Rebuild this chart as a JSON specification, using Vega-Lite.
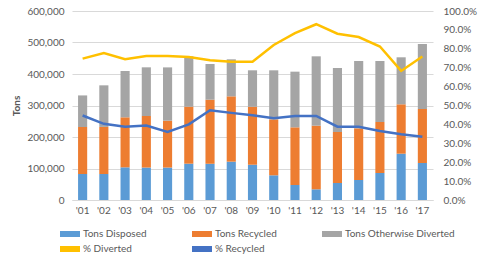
{
  "$schema": "https://vega.github.io/schema/vega-lite/v6.json",
  "autosize": "none",
  "width": 361,
  "height": 189,
  "padding": {"left": 72, "top": 11, "right": 47, "bottom": 66},
  "background": "white",
  "config": {
    "font": "Lato",
    "view": {"stroke": null},
    "axis": {"labelFont": "Lato", "labelFontSize": 10, "labelColor": "#595959", "titleFont": "Lato", "titleColor": "#595959"},
    "legend": {"labelFont": "Lato", "labelFontSize": 10, "labelColor": "#595959"}
  },
  "data": {
    "values": [
      {"year": "'01", "Tons Disposed": 82500, "Tons Recycled": 149200, "Tons Otherwise Diverted": 100300, "% Diverted": 0.748, "% Recycled": 0.447},
      {"year": "'02", "Tons Disposed": 82500, "Tons Recycled": 149500, "Tons Otherwise Diverted": 132000, "% Diverted": 0.777, "% Recycled": 0.403},
      {"year": "'03", "Tons Disposed": 103700, "Tons Recycled": 158800, "Tons Otherwise Diverted": 147000, "% Diverted": 0.745, "% Recycled": 0.388},
      {"year": "'04", "Tons Disposed": 103000, "Tons Recycled": 163700, "Tons Otherwise Diverted": 154500, "% Diverted": 0.762, "% Recycled": 0.394},
      {"year": "'05", "Tons Disposed": 103000, "Tons Recycled": 148800, "Tons Otherwise Diverted": 169200, "% Diverted": 0.762, "% Recycled": 0.36},
      {"year": "'06", "Tons Disposed": 115300, "Tons Recycled": 181000, "Tons Otherwise Diverted": 159800, "% Diverted": 0.757, "% Recycled": 0.40},
      {"year": "'07", "Tons Disposed": 115000, "Tons Recycled": 203500, "Tons Otherwise Diverted": 113200, "% Diverted": 0.739, "% Recycled": 0.475},
      {"year": "'08", "Tons Disposed": 121700, "Tons Recycled": 207400, "Tons Otherwise Diverted": 117500, "% Diverted": 0.731, "% Recycled": 0.461},
      {"year": "'09", "Tons Disposed": 112000, "Tons Recycled": 184000, "Tons Otherwise Diverted": 115700, "% Diverted": 0.732, "% Recycled": 0.449},
      {"year": "'10", "Tons Disposed": 78400, "Tons Recycled": 177600, "Tons Otherwise Diverted": 155700, "% Diverted": 0.82, "% Recycled": 0.433},
      {"year": "'11", "Tons Disposed": 47600, "Tons Recycled": 183100, "Tons Otherwise Diverted": 176700, "% Diverted": 0.883, "% Recycled": 0.445},
      {"year": "'12", "Tons Disposed": 33900, "Tons Recycled": 202100, "Tons Otherwise Diverted": 220100, "% Diverted": 0.93, "% Recycled": 0.445},
      {"year": "'13", "Tons Disposed": 54000, "Tons Recycled": 161900, "Tons Otherwise Diverted": 203100, "% Diverted": 0.88, "% Recycled": 0.388},
      {"year": "'14", "Tons Disposed": 63500, "Tons Recycled": 164000, "Tons Otherwise Diverted": 213800, "% Diverted": 0.862, "% Recycled": 0.388},
      {"year": "'15", "Tons Disposed": 85700, "Tons Recycled": 161900, "Tons Otherwise Diverted": 193700, "% Diverted": 0.812, "% Recycled": 0.365},
      {"year": "'16", "Tons Disposed": 147000, "Tons Recycled": 156800, "Tons Otherwise Diverted": 149200, "% Diverted": 0.683, "% Recycled": 0.348},
      {"year": "'17", "Tons Disposed": 117500, "Tons Recycled": 171400, "Tons Otherwise Diverted": 206300, "% Diverted": 0.759, "% Recycled": 0.335}
    ]
  },
  "encoding": {
    "x": {
      "field": "year", "type": "nominal", "sort": null, "title": null,
      "scale": {"paddingInner": 0.57, "paddingOuter": 0.285},
      "axis": {"labelAngle": 0, "ticks": false, "labelPadding": 5, "domainColor": "#D9D9D9", "grid": false}
    },
    "color": {
      "field": "series", "type": "nominal",
      "scale": {
        "domain": ["Tons Disposed", "Tons Recycled", "Tons Otherwise Diverted", "% Diverted", "% Recycled"],
        "range": ["#5B9BD5", "#ED7D31", "#A5A5A5", "#FFC000", "#4472C4"]
      },
      "legend": {
        "title": null, "orient": "none", "legendX": -12, "legendY": 213, "direction": "horizontal",
        "columns": 3, "columnPadding": 45, "rowPadding": -3, "labelOffset": 3, "symbolSize": 400,
        "symbolType": "M-1,-0.3H1V0.3H-1Z", "symbolStrokeWidth": 0
      }
    }
  },
  "layer": [
    {
      "transform": [
        {"fold": ["Tons Disposed", "Tons Recycled", "Tons Otherwise Diverted"], "as": ["series", "value"]},
        {"window": [{"op": "row_number", "as": "stackOrder"}], "groupby": ["year"]}
      ],
      "mark": {"type": "bar"},
      "encoding": {
        "y": {
          "field": "value", "type": "quantitative", "stack": "zero", "title": "Tons",
          "scale": {"domain": [0, 600000], "nice": false},
          "axis": {"values": [0, 100000, 200000, 300000, 400000, 500000, 600000], "format": ",d", "ticks": false, "domain": false,
            "labelPadding": 8, "gridColor": "#D9D9D9", "titleFontWeight": "bold", "titleFontSize": 10, "titlePadding": 5}
        },
        "order": {"field": "stackOrder", "type": "quantitative", "sort": "ascending"}
      }
    },
    {
      "transform": [{"fold": ["% Diverted", "% Recycled"], "as": ["series", "pct"]}],
      "mark": {"type": "line", "strokeWidth": 2.5},
      "encoding": {
        "y": {
          "field": "pct", "type": "quantitative", "title": null,
          "scale": {"domain": [0, 1], "nice": false},
          "axis": {"orient": "right", "values": [0, 0.1, 0.2, 0.3, 0.4, 0.5, 0.6, 0.7, 0.8, 0.9, 1], "format": ".1%", "ticks": false, "domain": false, "grid": false, "labelPadding": 10}
        }
      }
    }
  ],
  "resolve": {"scale": {"y": "independent"}}
}
